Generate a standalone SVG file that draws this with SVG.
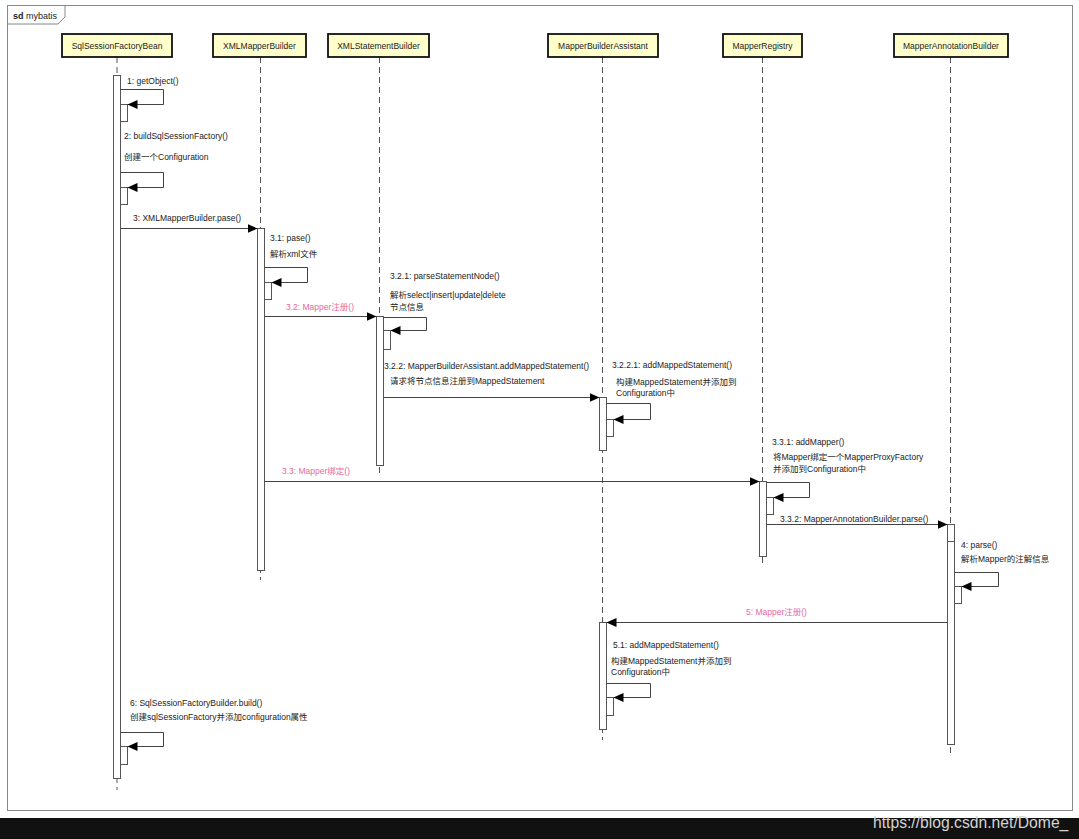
<svg xmlns="http://www.w3.org/2000/svg" width="1079" height="839" viewBox="0 0 1079 839">
<defs>
<style>
text{font-family:"Liberation Sans","Noto Sans CJK SC",sans-serif;font-size:8.5px;fill:#222}
.pink{fill:#e8689a}
.box{fill:#ffffcc;stroke:#111;stroke-width:1.8}
.life{stroke:#555;stroke-width:1;stroke-dasharray:6,4;fill:none}
.act{fill:#fff;stroke:#555;stroke-width:1}
.msg{stroke:#444;stroke-width:1;fill:none;marker-end:url(#ah)}
.self{stroke:#444;stroke-width:1;fill:none;marker-end:url(#ah)}
</style>
<marker id="ah" markerUnits="userSpaceOnUse" markerWidth="11" markerHeight="10" refX="10" refY="4.5" orient="auto">
<path d="M0,0 L10,4.5 L0,9 z" fill="#000"/>
</marker>
</defs>
<rect x="0" y="0" width="1079" height="839" fill="#fff"/>
<g id="frame">
<rect x="7.5" y="5.5" width="1065" height="805" fill="none" stroke="#888" stroke-width="1"/>
<path d="M7.5,24 H58 L65,17 V5.5" fill="none" stroke="#888" stroke-width="1"/>
<text x="13" y="19" style="font-size:9px"><tspan font-weight="bold">sd</tspan> mybatis</text>
</g>
<g id="lifelines">
<line class="life" x1="117" y1="57" x2="117" y2="790"/>
<line class="life" x1="260.5" y1="57" x2="260.5" y2="580"/>
<line class="life" x1="379.5" y1="57" x2="379.5" y2="475"/>
<line class="life" x1="602.5" y1="57" x2="602.5" y2="740"/>
<line class="life" x1="762.5" y1="57" x2="762.5" y2="566"/>
<line class="life" x1="950.5" y1="57" x2="950.5" y2="754"/>
</g>
<g id="SqlSessionFactoryBean">
<rect class="box" x="62" y="34" width="110" height="23"/>
<text x="117" y="48.5" text-anchor="middle">SqlSessionFactoryBean</text>
<rect class="act" x="113.5" y="75.5" width="7" height="703"/>
</g>
<g id="XMLMapperBuilder">
<rect class="box" x="213" y="34" width="93" height="23"/>
<text x="259.5" y="48.5" text-anchor="middle">XMLMapperBuilder</text>
<rect class="act" x="257.5" y="228.5" width="7" height="342"/>
</g>
<g id="XMLStatementBuilder">
<rect class="box" x="328" y="34" width="101" height="23"/>
<text x="378.5" y="48.5" text-anchor="middle">XMLStatementBuilder</text>
<rect class="act" x="376.5" y="316.5" width="7" height="149"/>
</g>
<g id="MapperBuilderAssistant">
<rect class="box" x="548" y="34" width="110" height="23"/>
<text x="603" y="48.5" text-anchor="middle">MapperBuilderAssistant</text>
<rect class="act" x="599.5" y="397.5" width="7" height="53"/>
<rect class="act" x="599.5" y="622.5" width="7" height="107"/>
</g>
<g id="MapperRegistry">
<rect class="box" x="723" y="34" width="79" height="23"/>
<text x="762.5" y="48.5" text-anchor="middle">MapperRegistry</text>
<rect class="act" x="759.5" y="481.5" width="7" height="75"/>
</g>
<g id="MapperAnnotationBuilder">
<rect class="box" x="894" y="34" width="114" height="23"/>
<text x="951" y="48.5" text-anchor="middle">MapperAnnotationBuilder</text>
<rect class="act" x="947.5" y="524.5" width="7" height="220"/>
<line x1="947.5" y1="541.5" x2="954.5" y2="541.5" stroke="#555"/>
</g>
<g id="nested-activations">
<rect class="act" x="120.5" y="104.5" width="7" height="17"/>
<rect class="act" x="120.5" y="187.5" width="7" height="17"/>
<rect class="act" x="264.5" y="282.5" width="7" height="17"/>
<rect class="act" x="383.5" y="330.5" width="7" height="19"/>
<rect class="act" x="606.5" y="419.5" width="7" height="17"/>
<rect class="act" x="766.5" y="497.5" width="7" height="17"/>
<rect class="act" x="954.5" y="586.5" width="7" height="17"/>
<rect class="act" x="606.5" y="697.5" width="7" height="18"/>
<rect class="act" x="120.5" y="746.5" width="7" height="18"/>
</g>
<g id="connectors">
<path class="self" d="M120.5,89.5 H163.5 V104.5 H127.5"/>
<path class="self" d="M120.5,172.5 H163.5 V187.5 H127.5"/>
<line class="msg" x1="120.5" y1="228.5" x2="257.5" y2="228.5"/>
<path class="self" d="M264.5,267.5 H307.5 V282.5 H271.5"/>
<line class="msg" x1="264.5" y1="316.5" x2="376.5" y2="316.5"/>
<path class="self" d="M383.5,317.5 H426.5 V330.5 H390.5"/>
<line class="msg" x1="383.5" y1="397.5" x2="599.5" y2="397.5"/>
<path class="self" d="M606.5,403.5 H650.5 V419.5 H613.5"/>
<line class="msg" x1="264.5" y1="481.5" x2="759.5" y2="481.5"/>
<path class="self" d="M766.5,482.5 H809.5 V497.5 H773.5"/>
<line class="msg" x1="766.5" y1="524.5" x2="947.5" y2="524.5"/>
<path class="self" d="M954.5,572.5 H998.5 V586.5 H961.5"/>
<line class="msg" x1="947.5" y1="622.5" x2="606.5" y2="622.5"/>
<path class="self" d="M606.5,683.5 H650.5 V697.5 H613.5"/>
<path class="self" d="M120.5,732.5 H163.5 V746.5 H127.5"/>
</g>
<g id="labels">
<text x="127" y="84">1: getObject()</text>
<text x="124" y="139">2: buildSqlSessionFactory()</text>
<text x="124" y="160">创建一个Configuration</text>
<text x="133" y="221">3: XMLMapperBuilder.pase()</text>
<text x="270" y="241">3.1: pase()</text>
<text x="270" y="257">解析xml文件</text>
<text class="pink" x="286" y="310">3.2: Mapper注册()</text>
<text x="390" y="279">3.2.1: parseStatementNode()</text>
<text x="390" y="298">解析select|insert|update|delete</text>
<text x="390" y="310">节点信息</text>
<text x="384" y="369">3.2.2: MapperBuilderAssistant.addMappedStatement()</text>
<text x="390" y="384">请求将节点信息注册到MappedStatement</text>
<text x="612" y="368">3.2.2.1: addMappedStatement()</text>
<text x="616" y="385">构建MappedStatement并添加到</text>
<text x="616" y="396">Configuration中</text>
<text class="pink" x="282" y="474">3.3: Mapper绑定()</text>
<text x="772" y="445">3.3.1: addMapper()</text>
<text x="773" y="460">将Mapper绑定一个MapperProxyFactory</text>
<text x="773" y="472">并添加到Configuration中</text>
<text x="780" y="522">3.3.2: MapperAnnotationBuilder.parse()</text>
<text x="961" y="548">4: parse()</text>
<text x="961" y="562">解析Mapper的注解信息</text>
<text class="pink" x="746" y="615">5: Mapper注册()</text>
<text x="613" y="648">5.1: addMappedStatement()</text>
<text x="611" y="664">构建MappedStatement并添加到</text>
<text x="611" y="675">Configuration中</text>
<text x="130" y="706">6: SqlSessionFactoryBuilder.build()</text>
<text x="130" y="720">创建sqlSessionFactory并添加configuration属性</text>
</g>
<g id="watermark">
<rect x="0" y="818" width="1079" height="21" fill="#111"/>
<text x="873" y="828" style="font-size:15.7px;fill:#d4d4d4">https://blog.csdn.net/Dome_</text>
</g>
</svg>
